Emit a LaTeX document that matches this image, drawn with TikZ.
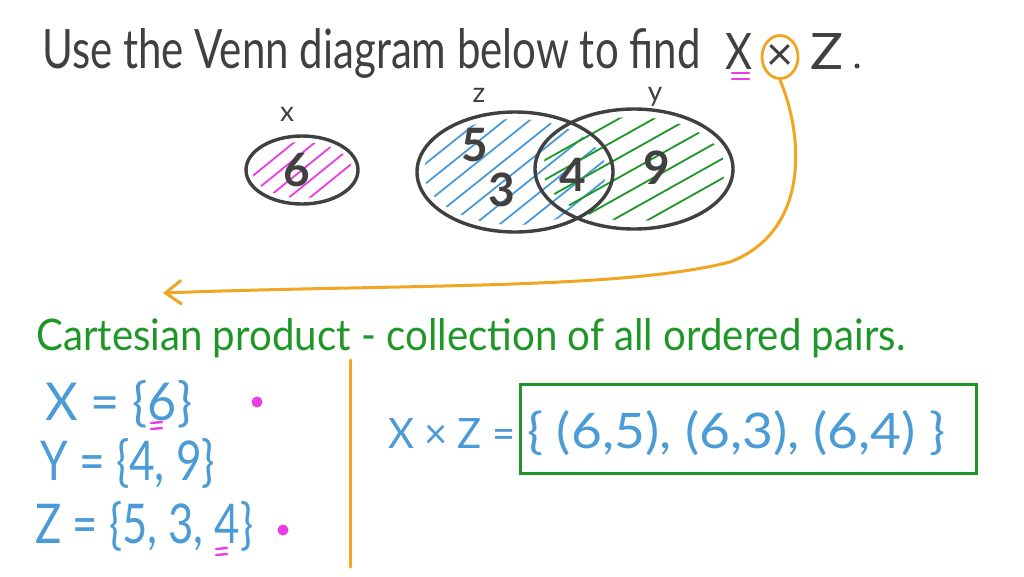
\documentclass[tikz,border=0pt]{standalone}
\usepackage{fontspec}
\setmainfont{Lato}
\usepackage{graphicx}
\usetikzlibrary{shapes.geometric,arrows.meta}
\definecolor{ink}{RGB}{64,64,64}
\definecolor{hgreen}{RGB}{30,150,40}
\definecolor{hblue}{RGB}{75,155,215}
\definecolor{hpink}{RGB}{235,60,230}
\definecolor{horange}{RGB}{240,165,35}
\newcommand{\fitbox}[3]{\resizebox{#1pt}{#2pt}{#3}}
\newcommand{\nodepth}[1]{\raisebox{0pt}[\height][0pt]{#1}}
\begin{document}
\begin{tikzpicture}[x=1pt,y=-1pt,
  txt/.style={inner sep=0pt, anchor=base west},
  setline/.style={draw=ink, line width=3.4pt},
  hatch/.style={line width=1.8pt, line cap=round},
  digit/.style={inner sep=0pt, text=ink, font=\fontsize{46}{46}\selectfont\bfseries},
  setlabel/.style={inner sep=0pt, text=ink, font=\fontsize{28}{28}\selectfont},
  pinkmark/.style={draw=hpink, line width=2.4pt, line cap=round},
  pinkdot/.style={circle, fill=hpink, inner sep=0pt, minimum size=11pt},
  orangeline/.style={draw=horange, line width=3pt, line cap=round}]
\useasboundingbox[fill=white] (0,0) rectangle (1024,576);

% title
\node[txt, text=ink] (t1) at (42,68) {\nodepth{\fitbox{658}{40}{Use the Venn diagram below to find}}};
\node[txt, text=ink] (tX) at (725,69) {\fitbox{27}{36}{X}};
\node[ellipse, draw=horange, line width=2.8pt, minimum width=36pt, minimum height=43pt,
      inner sep=0pt] (circx) at (780,57) {};
\node[inner sep=0pt, text=ink] (timesx) at (circx.center) {\resizebox{!}{26pt}{×}};
\node[txt, text=ink] (tZ) at (810,69) {\fitbox{33}{36}{Z}};
\node[circle, fill=ink, inner sep=0pt, minimum size=5pt] (tdot) at (857,66) {};
\draw[pinkmark] (732,73) -- (749,73) (732,79) -- (749,79);

% hatching
\begin{scope}
  \clip (302,170) ellipse [x radius=50, y radius=28];
  \foreach \c in {-84,-63,...,84}
    \draw[hatch, hpink] ({302+\c-80},{170+80*0.81}) -- ({302+\c+80},{170-80*0.81});
\end{scope}
\begin{scope}
  \clip (515,172) ellipse [x radius=91, y radius=53];
  \foreach \c in {-175,-150,...,175}
    \draw[hatch, hblue] ({515+\c-120},{172+120*0.8}) -- ({515+\c+120},{172-120*0.8});
\end{scope}
\begin{scope}
  \clip (634,169) ellipse [x radius=91, y radius=52];
  \foreach \c in {-175,-140,...,175}
    \draw[hatch, hgreen] ({634+\c-150},{169+150*0.56}) -- ({634+\c+150},{169-150*0.56});
\end{scope}

% Venn sets
\draw[setline] (302,170) ellipse [x radius=56, y radius=34];
\draw[setline] (515,172) ellipse [x radius=98, y radius=60];
\draw[setline] (634,169) ellipse [x radius=99, y radius=60];
\node[setlabel] (lx) at (287,114) {x};
\node[setlabel] (lz) at (479,95) {z};
\node[setlabel] (ly) at (655,97) {y};
\node[digit] (n6) at (297,170) {6};
\node[digit] (n5) at (475,145) {5};
\node[digit] (n3) at (502,190) {3};
\node[digit] (n4) at (573,175) {4};
\node[digit] (n9) at (657,168) {9};

% orange arrow
\coordinate (tip) at (163,293);
\draw[orangeline, -{Straight Barb[length=16pt,width=24pt]}] (circx.south)
  .. controls (805,140) and (808,232) .. (730,262)
  .. controls (620,290) and (400,284) .. (tip);

% definition
\node[txt, text=hgreen] (cart) at (36,350) {\fitbox{869}{32}{Cartesian product - collection of all ordered pairs.}};
\draw[orangeline] (350,360) -- (350,567);

% sets
\node[txt, text=hblue] (sx) at (45,420) {\fitbox{147}{40}{X = \{6\}}};
\node[txt, text=hblue] (sy) at (40,480) {\fitbox{175}{42}{Y = \{4, 9\}}};
\node[txt, text=hblue] (sz) at (35,543) {\fitbox{218}{42}{Z = \{5, 3, 4\}}};
\node[pinkdot] (d1) at (257,402) {};
\node[pinkdot] (d2) at (283,530) {};
\draw[pinkmark] (151,423) -- (162,422) (151,429) -- (162,428);
\draw[pinkmark] (216,549) -- (227,548) (216,555) -- (227,554);

% product
\node[txt, text=hblue] (xz) at (388,448) {\fitbox{127}{30}{X × Z =}};
\node[draw=hgreen, line width=3pt, minimum width=456pt, minimum height=89pt, inner sep=0pt] (box) at (748.5,429) {};
\node[txt, text=hblue] (pairs) at (527,448) {\fitbox{418}{38}{\{ (6,5), (6,3), (6,4) \}}};
\end{tikzpicture}
\end{document}
